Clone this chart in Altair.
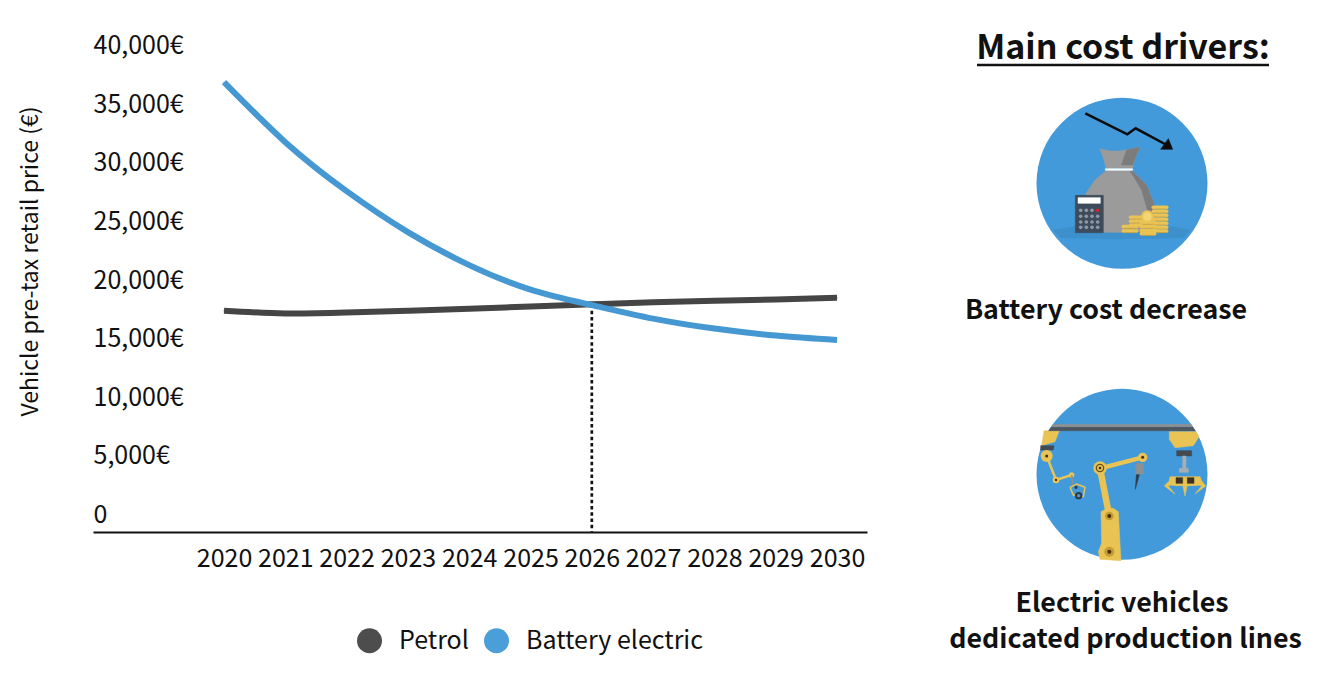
import altair as alt
import pandas as pd

FONT = "Noto Sans CJK SC"
INK = "#111111"
PETROL_C, BEV_C = "#454545", "#4698d3"
ICON_BLUE = "#429adb"
GOLD, GOLD_D = "#e9c455", "#c49c30"

years = list(range(2020, 2031))
petrol = [17330, 17110, 17190, 17340, 17500, 17700, 17880, 18050, 18180, 18300, 18440]
bev = [36830, 31715, 27537, 24041, 21228, 19139, 17817, 16666, 15814, 15217, 14833]
series_names = ["Petrol", "Battery electric"]
y_ticks = [0, 5000, 10000, 15000, 20000, 25000, 30000, 35000, 40000]
crossover_year = 2026
crossover_value = 17880

Y_MIN, Y_MAX = -1535, 40000
X_MIN, X_MAX = 2017.863, 2030.489
W, H = 774, 487

data = pd.DataFrame(
    [{"year": y, "series": "Petrol", "price": v} for y, v in zip(years, petrol)]
    + [{"year": y, "series": "Battery electric", "price": v} for y, v in zip(years, bev)]
)

x_enc = alt.X(
    "year:Q",
    scale=alt.Scale(domain=[X_MIN, X_MAX], nice=False, zero=False),
    axis=alt.Axis(
        values=years, format="d", title=None, ticks=False, grid=False,
        domainColor=INK, domainWidth=2, labelFontSize=25, labelFont=FONT,
        labelColor=INK, labelPadding=14, labelFlush=False, labelOverlap=False,
        labelBaseline="top",
    ),
)
y_enc = alt.Y(
    "price:Q",
    scale=alt.Scale(domain=[Y_MIN, Y_MAX], nice=False, zero=False),
    axis=alt.Axis(
        values=y_ticks, format=",d", labelExpr="datum.value === 0 ? '0' : datum.label + '€'",
        title="Vehicle pre-tax retail price (€)", titleFont=FONT, titleFontSize=23,
        titleFontWeight="normal", titleColor=INK, titleX=-51, titleY=216,
        titleAlign="center", ticks=False, grid=False, domain=False,
        labelFontSize=25, labelFont=FONT, labelColor=INK, labelAlign="left",
        labelPadding=0, labelFlush=False, labelOverlap=False, labelBaseline="middle",
        labelOffset=0.5,
    ),
)

lines = alt.Chart(data).mark_line(interpolate="natural", strokeWidth=6, strokeCap="butt").encode(
    x=x_enc, y=y_enc,
    stroke=alt.Stroke("series:N", scale=alt.Scale(domain=series_names, range=[PETROL_C, BEV_C]), legend=None),
    order=alt.Order("year:Q"),
)
legend_pts = alt.Chart(data).mark_circle(size=1, opacity=1).encode(
    x=x_enc, y=y_enc,
    fill=alt.Fill(
        "series:N",
        scale=alt.Scale(domain=series_names, range=["#4d4d4d", "#4a9fd8"]),
        legend=alt.Legend(
            title=None, orient="none", legendX=264, legendY=583, direction="horizontal",
            symbolType="circle", symbolSize=625, symbolStrokeWidth=0, symbolOpacity=1,
            labelFont=FONT, labelFontSize=25, labelColor=INK, labelOffset=17,
            labelLimit=400, columnPadding=15, padding=0,
        ),
    ),
)
rule_df = pd.DataFrame({"year": [crossover_year], "top": [crossover_value], "bottom": [Y_MIN]})
rule = alt.Chart(rule_df).mark_rule(color=INK, strokeWidth=2.7, strokeDash=[3.5, 2.8]).encode(
    x="year:Q", y="top:Q", y2="bottom:Q"
)
main = alt.layer(legend_pts, rule, lines)

# ---- right-hand panel (axis-free, positions in page-pixel units) ----
PX = alt.Scale(domain=[93, 867], nice=False, zero=False)
PY = alt.Scale(domain=[532, 45], nice=False, zero=False)
ox = alt.X("x:Q", scale=PX, axis=None)
oy = alt.Y("y:Q", scale=PY, axis=None)

def conv(points, origin):
    ox0, oy0 = origin
    return pd.DataFrame(
        [{"x": ox0 + a / 3, "y": oy0 + b / 3, "i": i} for i, (a, b) in enumerate(points)]
    )

def poly(points, color, origin):
    return alt.Chart(conv(points, origin)).mark_line(
        fill=color, stroke=color, strokeWidth=0.5, interpolate="linear-closed"
    ).encode(x=ox, y=oy, order="i:Q")

def path(points, color, width, origin, cap="butt"):
    return alt.Chart(conv(points, origin)).mark_line(
        color=color, strokeWidth=width, strokeCap=cap, strokeJoin="miter", clip=False
    ).encode(x=ox, y=oy, order="i:Q")

def dot(cx, cy, d, color, origin):
    return alt.Chart(conv([(cx, cy)], origin)).mark_point(
        shape="circle", filled=True, opacity=1, size=(d / 3) ** 2, color=color
    ).encode(x=ox, y=oy)

def label(txt, x, y, size, weight="bold"):
    df = pd.DataFrame({"x": [x], "y": [y], "t": [txt]})
    return alt.Chart(df).mark_text(
        font=FONT, fontSize=size, fontWeight=weight, color=INK, align="center", baseline="middle"
    ).encode(x=ox, y=oy, text="t:N")

def coins(x0, x1, ys, origin):
    out = []
    for cy in ys:
        out.append(path([(x0 + 4, cy), (x1 - 4, cy)], GOLD, 3.6, origin, cap="round"))
        out.append(path([(x0 + 5, cy + 5), (x1 - 5, cy + 5)], GOLD_D, 0.7, origin))
    return out

O1 = (1020, 90)
O2 = (1020, 380)

underline = [(977, 65), (1269, 65)]
title_line = alt.Chart(pd.DataFrame({"x": [p[0] for p in underline], "y": [p[1] for p in underline]})).mark_line(
    color=INK, strokeWidth=2.5, strokeCap="butt"
).encode(x=ox, y=oy)

layers = [
    label("Main cost drivers:", 1123, 49, 34),
    title_line,
    label("Battery cost decrease", 1106, 311, 26.8),
    label("Electric vehicles", 1122, 604, 26.8),
    label("dedicated production lines", 1125.5, 640, 26.8),
]

# Icon 1: money bag
ground = [(100, 420), (160, 410), (300, 404), (450, 410), (512, 420), (490, 443), (300, 447), (122, 443)]
bag_neck = [(240, 177), (272, 183), (300, 183), (360, 172), (345, 205), (338, 234), (258, 234), (250, 205)]
bag_body = [(258, 242), (336, 242), (380, 285), (405, 350), (402, 400), (350, 427), (240, 427), (198, 400), (198, 310), (225, 270)]
bag_dark = [(320, 180), (360, 172), (345, 205), (338, 225), (304, 225)]
bag_side = [(330, 242), (336, 242), (380, 285), (405, 350), (402, 400), (385, 370), (365, 300)]
band = [(256, 236), (338, 236), (338, 241), (256, 241)]
calc = [(166, 316), (250, 316), (250, 428), (166, 428)]
display = [(174, 323), (241, 323), (241, 340), (174, 340)]
arrow = [(196, 70), (322, 133), (347, 115), (440, 165)]
head = [(422, 178), (458, 178), (445, 146)]
key_cols = [182, 199, 216, 233]
key_rows = [361, 379, 396, 412]

layers += [dot(306, 280, 513, ICON_BLUE, O1), poly(ground, "#3d90cc", O1),
           poly(bag_body, "#9b9b9b", O1), poly(bag_side, "#7c7c7c", O1),
           poly(bag_neck, "#9b9b9b", O1), poly(bag_dark, "#7c7c7c", O1),
           poly(band, "#ffffff", O1), path(arrow, "#0c0c0c", 2.5, O1), poly(head, "#0c0c0c", O1),
           poly(calc, "#3d4b5a", O1), poly(display, "#ffffff", O1)]
for ky in key_rows:
    for kx in key_cols:
        layers.append(dot(kx, ky, 11, "#d8232a" if (kx, ky) == (233, 361) else "#8f98a3", O1))
layers += coins(396, 444, [352, 364, 376, 388, 400, 412, 423], O1)
layers += coins(328, 372, [382, 394, 406], O1)
layers += coins(306, 354, [410, 423], O1)
layers += coins(360, 408, [398, 410, 422, 431], O1)
layers.append(dot(382, 380, 38, GOLD, O1))
layers.append(dot(382, 380, 26, "#f2d675", O1))

# Icon 2: factory robots
rail_light = [(99, 133), (513, 133), (518, 142), (94, 142)]
rail_dark = [(94, 142), (518, 142), (526, 152), (86, 152)]
mount_l = [(72, 152), (118, 152), (105, 185), (65, 197)]
band_l = [(62, 197), (102, 197), (100, 210), (62, 210)]
mount_r = [(448, 155), (527, 155), (537, 170), (520, 197), (465, 203), (448, 178)]
band_r = [(470, 212), (515, 212), (515, 228), (470, 228)]
rod_r = [(488, 228), (498, 228), (498, 265), (488, 265)]
block_r = [(478, 265), (505, 265), (505, 277), (478, 277)]
grip = [(450, 290), (540, 290), (550, 315), (520, 317), (470, 317), (445, 315)]
grip_dark_a = [(468, 293), (488, 293), (488, 310), (468, 310)]
grip_dark_b = [(502, 293), (522, 293), (522, 310), (502, 310)]
claw_a = [(445, 305), (433, 318), (465, 342), (445, 318), (455, 312)]
claw_b = [(488, 315), (502, 315), (495, 348)]
claw_c = [(547, 305), (557, 318), (525, 342), (545, 318), (537, 312)]
arm_l = [(80, 228), (108, 300), (155, 285)]
tool_ring = [(150, 322), (170, 312), (195, 322), (190, 350), (160, 345)]
pillar = [(243, 395), (262, 385), (280, 385), (295, 395), (300, 490), (303, 542), (240, 538), (235, 515), (245, 490)]
arm_c1 = [(240, 265), (264, 388)]
arm_c2 = [(240, 265), (368, 232)]
tool_block = [(347, 250), (370, 250), (370, 282), (347, 282)]
spike = [(349, 284), (358, 284), (346, 328)]

layers += [dot(306, 283, 513, ICON_BLUE, O2), poly(mount_l, GOLD, O2), poly(band_l, "#454b52", O2),
           path(arm_l, GOLD, 2.5, O2), dot(80, 228, 36, GOLD, O2), dot(80, 228, 9, "#4a2b10", O2),
           dot(108, 300, 20, GOLD, O2), dot(108, 300, 7, "#4a2b10", O2), dot(155, 285, 16, GOLD, O2),
           path([(155, 285), (160, 318)], "#8a8f93", 1.5, O2),
           path(tool_ring + tool_ring[:1], GOLD, 1.5, O2), dot(176, 347, 22, "#2f3a45", O2),
           dot(176, 347, 10, ICON_BLUE, O2), dot(168, 322, 10, "#2f3a45", O2),
           poly(rail_light, "#8b9195", O2), poly(rail_dark, "#4d555e", O2),
           poly(mount_r, GOLD, O2), poly(band_r, "#454b52", O2), poly(rod_r, "#a9aeb2", O2),
           poly(block_r, "#a9aeb2", O2), poly(claw_a, GOLD, O2), poly(claw_b, GOLD, O2),
           poly(claw_c, GOLD, O2), poly(grip, GOLD, O2), poly(grip_dark_a, "#3d3324", O2),
           poly(grip_dark_b, "#3d3324", O2),
           poly(tool_block, "#8b9195", O2), poly(spike, "#2f3a45", O2),
           path(arm_c1, GOLD, 6.5, O2), path(arm_c2, GOLD, 4.5, O2),
           poly(pillar, GOLD, O2),
           dot(240, 264, 40, GOLD, O2), dot(240, 264, 26, "#6b5420", O2), dot(240, 264, 18, GOLD, O2),
           dot(240, 264, 8, "#4a2b10", O2),
           dot(368, 232, 28, GOLD, O2), dot(368, 232, 9, "#4a2b10", O2),
           dot(268, 408, 26, GOLD_D, O2), dot(268, 408, 12, "#4a2b10", O2),
           dot(268, 515, 30, GOLD_D, O2), dot(268, 515, 12, "#4a2b10", O2)]

overlay = alt.layer(*layers)

chart = (
    alt.layer(main, overlay)
    .resolve_scale(x="independent", y="independent")
    .properties(
        width=W, height=H,
        autosize=alt.AutoSizeParams(type="none"),
        padding={"left": 85, "top": 37, "right": 460, "bottom": 134},
        background="white",
    )
    .configure_view(stroke=None)
)
chart.save("out.html", embed_options={"renderer": "svg", "actions": False})
